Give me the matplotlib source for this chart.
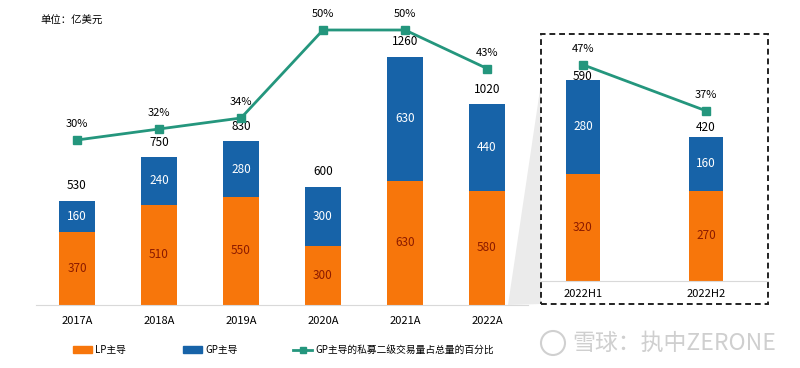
import matplotlib.pyplot as plt
from matplotlib.lines import Line2D
from matplotlib.patches import Patch, Rectangle, Polygon, Ellipse

plt.rcParams['font.family'] = ['Noto Sans CJK SC', 'DejaVu Sans']

# datos anuales
years = ['2017A', '2018A', '2019A', '2020A', '2021A', '2022A']
lp = [370, 510, 550, 300, 630, 580]
gp = [160, 240, 280, 300, 630, 440]
total = [530, 750, 830, 600, 1260, 1020]
pct = [30, 32, 34, 50, 50, 43]

# datos semestrales 2022
halves = ['2022H1', '2022H2']
lp_h = [320, 270]
gp_h = [280, 160]
total_h = [590, 420]
pct_h = [47, 37]

c_lp = '#F7760B'
c_gp = '#1763A8'
c_line = '#24967D'
c_lp_txt = '#8B1A00'

W, H = 800, 368
fig = plt.figure(figsize=(8, 3.68), dpi=100)


def px_axes(x0, y_top, x1, y_bot):
    return fig.add_axes([x0 / W, (H - y_bot) / H, (x1 - x0) / W, (y_bot - y_top) / H])


def dibujar(ax, cats, lp_v, gp_v, tot_v, pct_v, ymax, pmax, width, tot_off, pad):
    x = list(range(len(cats)))
    ax.bar(x, lp_v, width=width, color=c_lp, zorder=2)
    ax.bar(x, gp_v, width=width, bottom=lp_v, color=c_gp, zorder=2)
    for i in x:
        ax.text(i, lp_v[i] / 2, str(lp_v[i]), ha='center', va='center',
                color=c_lp_txt, fontsize=8.5)
        ax.text(i, lp_v[i] + gp_v[i] / 2, str(gp_v[i]), ha='center', va='center',
                color='white', fontsize=8.5)
        ax.annotate(str(tot_v[i]), (i, tot_v[i]), xytext=(0, tot_off[i]),
                    textcoords='offset pixels', ha='center', va='center',
                    fontsize=8.5, color='black', annotation_clip=False)
    ax.set_xlim(-0.5, len(cats) - 0.5)
    ax.set_ylim(0, ymax)
    ax.set_xticks(x)
    ax.set_xticklabels(cats, fontsize=8)
    ax.tick_params(axis='x', length=0, pad=pad)
    ax.set_yticks([])
    for s in ['top', 'left', 'right']:
        ax.spines[s].set_visible(False)
    ax.spines['bottom'].set_color('#d9d9d9')
    ax.patch.set_alpha(0)

    ax2 = ax.twinx()
    ax2.plot(x, pct_v, color=c_line, lw=2, marker='s', markersize=6, zorder=3,
             clip_on=False)
    for i in x:
        ax2.annotate(f'{pct_v[i]}%', (i, pct_v[i]), xytext=(0, 16),
                     textcoords='offset pixels', ha='center', va='center',
                     fontsize=8, annotation_clip=False)
    ax2.set_ylim(0, pmax)
    ax2.set_yticks([])
    for s in ax2.spines.values():
        s.set_visible(False)
    return ax2


# panel izquierdo
ax = px_axes(36, 10, 528, 305)
dibujar(ax, years, lp, gp, total, pct, 295 / 0.197, 295 / 5.5, 0.44,
        [15] * len(years), 8)

# cuna gris hacia el recuadro
fig.patches.append(Polygon([(508 / W, (H - 305) / H), (541 / W, (H - 83) / H),
                            (541 / W, (H - 304) / H)], closed=True,
                           transform=fig.transFigure, facecolor='#ebebeb',
                           edgecolor='none', zorder=0))

# panel derecho
axr = px_axes(521.5, 34, 767.5, 281)
dibujar(axr, halves, lp_h, gp_h, total_h, pct_h, 247 / 0.335, 247 / 4.6, 0.27,
        [7, 13], 6)

# recuadro punteado
fig.patches.append(Rectangle((541 / W, (H - 304) / H), 227 / W, 270 / H,
                             transform=fig.transFigure, fill=False,
                             edgecolor='#222222', lw=1.4, ls=(0, (3, 2))))

# unidad
fig.text(40 / W, (H - 21) / H, '单位：亿美元', fontsize=7.5, va='center')

# leyenda, una entrada por vez
handles = [Patch(color=c_lp, label='LP主导'),
           Patch(color=c_gp, label='GP主导'),
           Line2D([0], [0], color=c_line, lw=2, marker='s', markersize=5,
                  label='GP主导的私募二级交易量占总量的百分比')]
for h, x0 in zip(handles, [73, 183, 293]):
    leg = fig.legend(handles=[h], loc='center left',
                     bbox_to_anchor=(x0 / W, (H - 350) / H),
                     frameon=False, fontsize=7, handlelength=2.0,
                     handleheight=0.7, handletextpad=0.3, borderpad=0,
                     borderaxespad=0)

# marca de agua
fig.patches.append(Ellipse((553 / W, (H - 343) / H), 24 / W, 24 / H,
                           transform=fig.transFigure, fill=False,
                           edgecolor='#d0d0d0', lw=1.5))
fig.text(572 / W, (H - 343) / H, '雪球：执中ZERONE', fontsize=16.5,
         color='#cfcfcf', va='center')

fig.savefig('out.png', dpi=100)
